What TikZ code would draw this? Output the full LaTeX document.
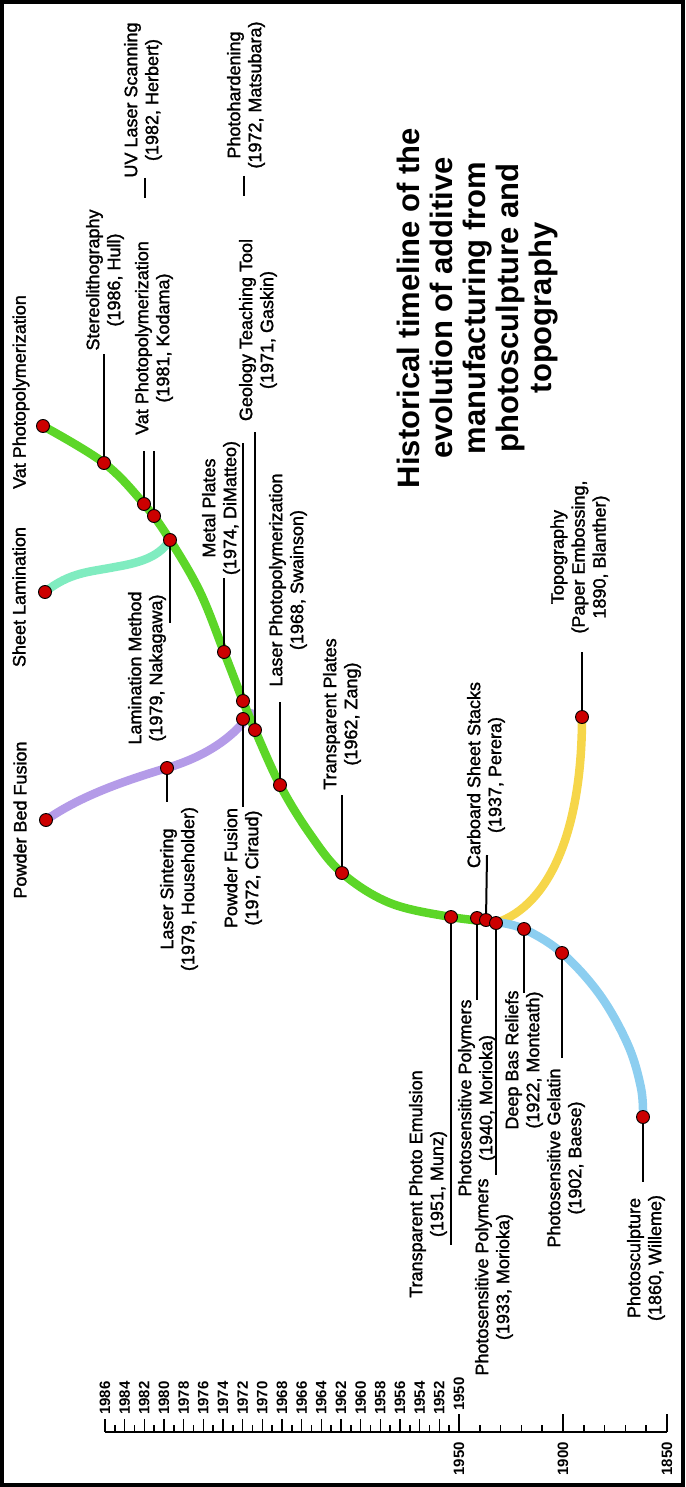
\documentclass[tikz,border=0pt]{standalone}
\usepackage{fontspec}
\setmainfont{Liberation Sans}
\newfontfamily\lblfont{Liberation Sans}[FakeBold=1.5]
\usetikzlibrary{calc}
\definecolor{dotred}{RGB}{204,0,0}
\definecolor{cgreen}{RGB}{92,214,40}
\definecolor{cmint}{RGB}{128,236,192}
\definecolor{cpurple}{RGB}{180,155,232}
\definecolor{cyellow}{RGB}{246,214,74}
\definecolor{cblue}{RGB}{140,206,240}
\tikzset{
 lbl/.style={rotate=90, font=\lblfont\fontsize{18}{21}\selectfont, align=center, inner sep=0pt},
 dotn/.style={circle, fill=dotred, draw=black, line width=0.9pt, minimum size=13pt, inner sep=0pt},
 lead/.style={line width=2pt, black},
 branch/.style={line width=8.5pt, line cap=round},
 axnum/.style={rotate=90, font=\bfseries\fontsize{15}{17}\selectfont, inner sep=0pt},
 tickln/.style={line width=1.5pt},
}
\begin{document}
\begin{tikzpicture}[x=1pt,y=-1pt]
\path[use as bounding box] (0,0) rectangle (685,1487);
% dot positions
\coordinate (pVat) at (43,426);
\coordinate (p86) at (104,463);
\coordinate (p82) at (144,504);
\coordinate (p81) at (154,516);
\coordinate (p79n) at (170,540);
\coordinate (pSheet) at (45,592);
\coordinate (p74) at (224,652);
\coordinate (p72m) at (243,701);
\coordinate (p72c) at (243,719);
\coordinate (p71) at (255,730);
\coordinate (p79h) at (167,768);
\coordinate (pPowder) at (46,820);
\coordinate (p68) at (280,785);
\coordinate (p62) at (342,873);
\coordinate (p51) at (451,917);
\coordinate (p40) at (477,918);
\coordinate (p37) at (486,920);
\coordinate (p33) at (496,923);
\coordinate (p22) at (524,929);
\coordinate (p02) at (562,953);
\coordinate (p60) at (643,1117);
\coordinate (p90) at (582,717);
% branches
\draw[branch, cmint] (pSheet) .. controls (70,572) and (90,572) .. (115,567) .. controls (145,562) and (160,555) .. (p79n);
\draw[branch, cpurple] (pPowder) .. controls (75,800) and (110,785) .. (p79h) .. controls (210,755) and (235,735) .. (251,713);
\draw[branch, cyellow] (p33) .. controls (550,905) and (582,830) .. (p90);
\draw[branch, cblue] plot[smooth, tension=0.6] coordinates {(496,922) (524,929) (562,953) (600,995) (628,1045) (641,1088) (643,1117)};
\draw[branch, cgreen] plot[smooth, tension=0.6] coordinates {(43,426) (104,463) (144,504) (170,540) (200,592) (224,652) (243,701) (255,730) (280,785) (310,834) (342,873) (390,903) (451,917) (496,922)};
% labels
\node[lbl] (lVat) at (21,392) {Vat Photopolymerization};
\node[lbl] (lSheet) at (19,597) {Sheet Lamination};
\node[lbl] (lPowder) at (20,820) {Powder Bed Fusion};
\node[lbl] (l86) at (105,280) {Stereolithography\\(1986, Hull)};
\node[lbl] (l82) at (143,100) {UV Laser Scanning\\(1982, Herbert)};
\node[lbl] (l81) at (154,338) {Vat Photopolymerization\\(1981, Kodama)};
\node[lbl] (l72m) at (246,95) {Photohardening\\(1972, Matsubara)};
\node[lbl] (l71) at (258,330) {Geology Teaching Tool\\(1971, Gaskin)};
\node[lbl] (l74) at (221,508) {Metal Plates\\(1974, DiMatteo)};
\node[lbl] (l79n) at (147,668) {Lamination Method\\(1979, Nakagawa)};
\node[lbl] (l79h) at (179,889) {Laser Sintering\\(1979, Householder)};
\node[lbl] (l72c) at (243,868) {Powder Fusion\\(1972, Ciraud)};
\node[lbl] (l68) at (288,580) {Laser Photopolymerization\\(1968, Swainson)};
\node[lbl] (l62) at (342,714) {Transparent Plates\\(1962, Zang)};
\node[lbl] (l51) at (428,1184) {Transparent Photo Emulsion\\(1951, Munz)};
\node[lbl] (l40) at (477,1098) {Photosensitive Polymers\\(1940, Morioka)};
\node[lbl] (l33) at (494,1277) {Photosensitive Polymers\\(1933, Morioka)};
\node[lbl] (l37) at (486,775) {Carboard Sheet Stacks\\(1937, Perera)};
\node[lbl] (l22) at (524,1060) {Deep Bas Reliefs\\(1922, Monteath)};
\node[lbl] (l02) at (566,1158) {Photosensitive Gelatin\\(1902, Baese)};
\node[lbl] (l60) at (646,1258) {Photosculpture\\(1860, Willeme)};
\node[lbl] (l90) at (580,557) {Topography\\(Paper Embossing,\\1890, Blanther)};
\node[rotate=90, font=\bfseries\fontsize{31}{33}\selectfont, align=center] (title) at (478,308) {Historical timeline of the\\evolution of additive\\manufacturing from\\photosculpture and\\topography};
% leader ends
\coordinate (c86) at (104,354);
\coordinate (c82) at (144,451);
\coordinate (c81) at (154,451);
\coordinate (c79n) at (170,623);
\coordinate (c74) at (224,578);
\coordinate (c72m) at (243,443);
\coordinate (c71) at (255,432);
\coordinate (c79h) at (167,802);
\coordinate (c72c) at (243,807);
\coordinate (c68) at (280,702);
\coordinate (c62) at (342,795);
\coordinate (c51) at (451,1245);
\coordinate (c40) at (477,1000);
\coordinate (c33) at (496,1175);
\coordinate (c37) at (487,855);
\coordinate (c22) at (524,993);
\coordinate (c02) at (562,1058);
\coordinate (c60) at (643,1182);
\coordinate (c90) at (582,652);
\foreach \k in {86,82,81,79n,74,72m,71,79h,72c,68,62,51,40,33,37,22,02,60,90}{
  \draw[lead] (p\k) -- (c\k);
}
% short dashes below the two far labels
\coordinate (s82a) at (145,178); \coordinate (s82b) at (145,198);
\coordinate (s72a) at (244,176); \coordinate (s72b) at (244,196);
\draw[lead] (s82a) -- (s82b);
\draw[lead] (s72a) -- (s72b);
% dots
\foreach \k in {Vat,86,82,81,79n,Sheet,74,72m,72c,71,79h,Powder,68,62,51,40,37,33,22,02,60,90}{
  \node[dotn] (d\k) at (p\k) {};
}
% axis
\draw[line width=2.5pt] (105,1432) -- (667,1432);
\foreach \yr in {1951,...,1986}{
  \pgfmathsetmacro\xx{105+(1986-\yr)*9.833}
  \ifodd\yr\relax
    \draw[tickln] (\xx,1432) -- (\xx,1425);
  \else
    \draw[tickln] (\xx,1432) -- (\xx,1419);
    \node[axnum, anchor=west] at (\xx,1415) {\yr};
  \fi
}
\draw[tickln] (459,1432) -- (459,1414);
\node[axnum, anchor=west] at (459,1411) {1950};
\foreach \yr in {1860,1870,1880,1890,1910,1920,1930,1940}{
  \pgfmathsetmacro\xx{459+(1950-\yr)*2.08}
  \draw[tickln] (\xx,1432) -- (\xx,1425);
}
\foreach \yr/\xx in {1950/459,1900/563,1850/667}{
  \draw[tickln] (\xx,1432) -- (\xx,1414);
  \node[axnum, anchor=east] at (\xx,1442) {\yr};
}
% frame
\draw[line width=4pt] (2,2) rectangle (683,1485);
\end{tikzpicture}
\end{document}
